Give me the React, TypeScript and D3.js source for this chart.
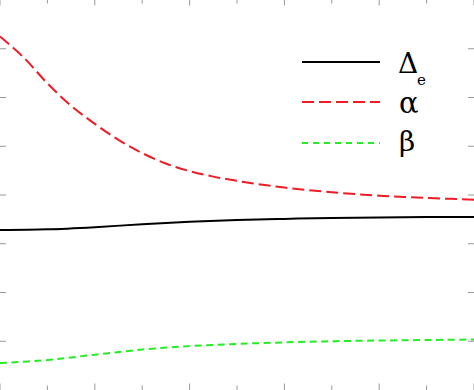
import React from "react";
import * as d3 from "d3";

const xAlpha = [0, 0.5, 1, 1.5, 2, 2.5, 3, 3.5, 4, 4.5, 5, 5.5, 6, 6.5, 7, 7.5, 8, 8.5, 9, 9.5, 10];
const alphaValues = [7.25, 6.82, 6.29, 5.83, 5.46, 5.13, 4.86, 4.645, 4.49, 4.377, 4.29, 4.215, 4.153, 4.101, 4.057, 4.019, 3.987, 3.961, 3.939, 3.921, 3.905];
const xOther = [0, 1, 2, 3, 4, 5, 6, 7, 8, 9, 10];
const deltaValues = [3.28, 3.295, 3.34, 3.40, 3.45, 3.485, 3.51, 3.528, 3.54, 3.547, 3.55];
const betaValues = [0.554, 0.615, 0.725, 0.83, 0.9, 0.945, 0.977, 1.0, 1.015, 1.026, 1.036];

const xTicks = [0, 1, 2, 3, 4, 5, 6, 7, 8, 9, 10];
const yTicks = [1, 2, 3, 4, 5, 6, 7];

const W = 474;
const H = 390;
const serif = "'DejaVu Serif', 'Liberation Serif', serif";

export default function App() {
  const x = d3.scaleLinear().domain([0, 10]).range([0, W]);
  const y = d3.scaleLinear().domain([0, 8]).range([H, 0]);
  const line = d3
    .line<[number, number]>()
    .x((d) => x(d[0]))
    .y((d) => y(d[1]))
    .curve(d3.curveCatmullRom.alpha(0.5));

  const series = [
    { xs: xOther, ys: deltaValues, color: "#000000", dash: "none" },
    { xs: xAlpha, ys: alphaValues, color: "#ee1c25", dash: "12,5" },
    { xs: xOther, ys: betaValues, color: "#22ee22", dash: "7,4.5" },
  ];

  const legendY = [62, 102, 143];
  const legendDash = ["none", "12,5", "6,5"];
  const tickColor = "#999";
  const ts = { fontFamily: serif, fill: "#000" } as React.CSSProperties;

  return (
    <svg
      width={W}
      height={H}
      style={{ position: "absolute", left: 0, top: 0, background: "#fff" }}
    >
      <rect x={0} y={0} width={W} height={H} fill="#fff" />
      {xTicks.map((t) => {
        const len = t % 2 === 0 ? 5.5 : 3.5;
        return (
          <g key={"xt" + t}>
            <line x1={x(t)} x2={x(t)} y1={0} y2={len} stroke={tickColor} strokeWidth={1} />
            <line x1={x(t)} x2={x(t)} y1={H - len - 1} y2={H} stroke={tickColor} strokeWidth={1} />
          </g>
        );
      })}
      {yTicks.map((t) => (
        <g key={"yt" + t}>
          <line x1={0} x2={6} y1={y(t)} y2={y(t)} stroke={tickColor} strokeWidth={1} />
          <line x1={W - 6} x2={W} y1={y(t)} y2={y(t)} stroke={tickColor} strokeWidth={1} />
        </g>
      ))}
      {series.map((s, i) => (
        <path
          key={"s" + i}
          d={line(s.xs.map((v, j) => [v, s.ys[j]] as [number, number])) || ""}
          fill="none"
          stroke={s.color}
          strokeWidth={2}
          strokeDasharray={s.dash}
        />
      ))}
      {series.map((s, i) => (
        <line
          key={"l" + i}
          x1={302}
          x2={380}
          y1={legendY[i]}
          y2={legendY[i]}
          stroke={s.color}
          strokeWidth={2}
          strokeDasharray={legendDash[i]}
        />
      ))}
      <text x={398} y={73} fontSize={28} style={ts}>Δ</text>
      <text x={417} y={85} fontSize={15} style={ts}>e</text>
      <text x={399} y={113} fontSize={29} style={ts}>α</text>
      <text x={399} y={151} fontSize={28} style={ts}>β</text>
    </svg>
  );
}
